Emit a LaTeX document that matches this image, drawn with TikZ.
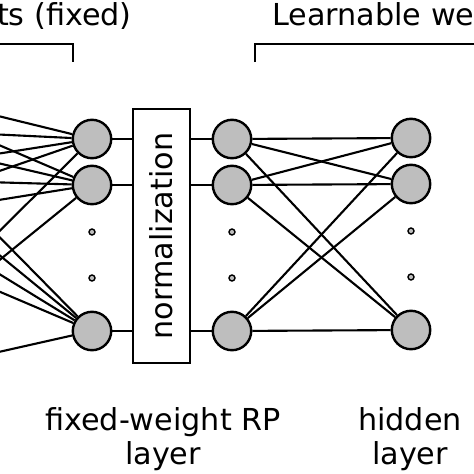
\documentclass[tikz,border=0pt]{standalone}
\usepackage{fontspec}
\setmainfont{DejaVu Sans}
\usepackage{xcolor}
\usepackage{tikz}
\usetikzlibrary{positioning, calc}
\definecolor{nngray}{RGB}{190,190,190}

\begin{document}
\begin{tikzpicture}[x=0.025cm, y=-0.025cm,
  every node/.style={font=\fontsize{21.5}{24.2}\selectfont},
  neuron/.style={circle, draw=black, fill=nngray, line width=1.7pt,
                 minimum size=0.96cm, inner sep=0pt},
  vdot/.style={circle, draw=black, fill=nngray, line width=1pt,
               minimum size=0.15cm, inner sep=0pt},
  normbox/.style={rectangle, draw=black, line width=1.5pt,
                  minimum width=1.42cm, minimum height=6.35cm, inner sep=0pt},
  caption/.style={align=center, inner sep=0pt},
  link/.style={line width=1.5pt},
  bracket/.style={line width=1.5pt},
]

\useasboundingbox (0,0) rectangle (474,474);
\clip (0,0) rectangle (474,474);

% ── inputs (off the left edge) ──
\coordinate (in1) at (-157,78);
\coordinate (in2) at (-157,127);
\coordinate (in3) at (-157,178);
\coordinate (in4) at (-157,225);
\coordinate (in5) at (-157,387);

% ── RP layer ──
\node[neuron] (rp1) at (92,139) {};
\node[neuron] (rp2) at (92,185) {};
\node[vdot]   (rpd1) at (92,232) {};
\node[vdot]   (rpd2) at (92,278) {};
\node[neuron] (rp3) at (92,331) {};
\foreach \i in {1,...,5}
  \foreach \j in {1,2,3}
    \draw[link] (in\i) -- (rp\j);

% ── normalization ──
\node[normbox] (norm) at (161.5,236) {};
\node[rotate=90, inner sep=0pt] (normtxt) at (norm.center) {normalization};

% ── normalized layer ──
\node[neuron] (nm1) at (232,139) {};
\node[neuron] (nm2) at (232,185) {};
\node[vdot]   (nmd1) at (232,232) {};
\node[vdot]   (nmd2) at (232,278) {};
\node[neuron] (nm3) at (232,331) {};
\foreach \j in {1,2,3} {
  \draw[link] (rp\j) -- (rp\j -| norm.west);
  \draw[link] (nm\j -| norm.east) -- (nm\j);
}

% ── hidden layer ──
\node[neuron] (h1) at (411,138) {};
\node[neuron] (h2) at (411,184) {};
\node[vdot]   (hd1) at (411,231) {};
\node[vdot]   (hd2) at (411,277) {};
\node[neuron] (h3) at (411,330) {};
\foreach \i in {1,2,3}
  \foreach \j in {1,2,3}
    \draw[link] (nm\i) -- (h\j);

% ── brackets and labels ──
\node[anchor=base east, inner sep=0pt] (fixedlbl) at (132,25) {ts (fixed)};
\node[anchor=base west, inner sep=0pt] (learnlbl) at (272,25) {Learnable we};
\draw[bracket] (-5,44) -| (73,62);
\draw[bracket] (255,62) |- (480,44);

\node[caption, anchor=north] (rplbl) at (163,407) {fixed-weight RP\\layer};
\node[caption, anchor=north] (hidlbl) at (410,407) {hidden\\layer};

\end{tikzpicture}
\end{document}
